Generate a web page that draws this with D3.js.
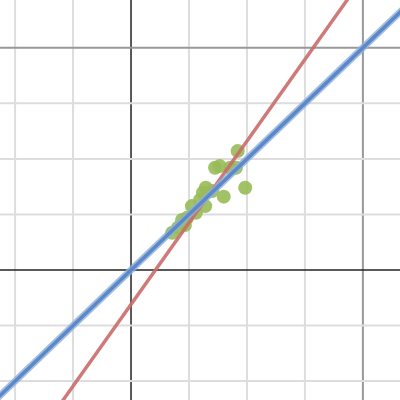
<!DOCTYPE html>
<html><head><meta charset="utf-8">
<script src="https://cdn.jsdelivr.net/npm/d3@7"></script>
<style>body{margin:0;background:#fff}</style></head>
<body><svg id="c" width="400" height="400"></svg>
<script>
// scatter points
const xs = [0.71,0.81,0.88,0.97,1.05,1.12,1.28,1.24,1.29,1.40,1.45,1.53,1.60,1.71,1.81,1.84,1.97,0.93,1.19];
const ys = [0.67,0.76,0.90,0.94,1.15,1.03,1.15,1.39,1.48,1.42,1.84,1.87,1.32,1.84,1.84,2.14,1.48,0.81,1.26];
// fitted lines: [slope, intercept]
const blueLine = [1.0, 0.0];
const redLine = [1.47, -0.62];

const svg = d3.select("#c");
const x = d3.scaleLinear().domain([-2.26, 4.64]).range([0, 400]);
const y = d3.scaleLinear().domain([-2.34, 4.86]).range([400, 0]);

const gx = d3.range(-2, 5), gy = d3.range(-2, 5);
svg.selectAll(".vx").data(gx).join("line")
  .attr("x1", d => x(d)).attr("x2", d => x(d)).attr("y1", 0).attr("y2", 400)
  .attr("stroke", d => d === 0 ? "#222" : (d % 4 === 0 ? "#999" : "#ddd"))
  .attr("stroke-width", d => d === 0 ? 1.5 : 2);
svg.selectAll(".hy").data(gy).join("line")
  .attr("y1", d => y(d)).attr("y2", d => y(d)).attr("x1", 0).attr("x2", 400)
  .attr("stroke", d => d === 0 ? "#222" : (d % 4 === 0 ? "#999" : "#ddd"))
  .attr("stroke-width", d => d === 0 ? 1.5 : 2);

svg.selectAll("circle").data(xs).join("circle")
  .attr("cx", d => x(d)).attr("cy", (d, i) => y(ys[i])).attr("r", 7)
  .attr("fill", "#98bb56").attr("opacity", 0.9);

function drawLine(l, color, w, op) {
  const [m, b] = l;
  svg.append("line")
    .attr("x1", x(-3)).attr("y1", y(m * -3 + b))
    .attr("x2", x(6)).attr("y2", y(m * 6 + b))
    .attr("stroke", color).attr("stroke-width", w).attr("opacity", op);
}
drawLine(redLine, "#c96c6b", 3.5, 0.9);
drawLine(blueLine, "#8fb0dc", 7, 0.8);
drawLine(blueLine, "#5b88c8", 3.5, 1);
</script></body></html>
